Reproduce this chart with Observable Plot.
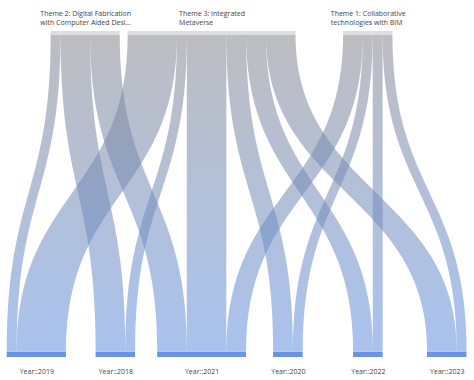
<!DOCTYPE html>
<html><head><meta charset="utf-8">
<script src="https://cdn.jsdelivr.net/npm/d3@7"></script>
<script src="https://cdn.jsdelivr.net/npm/@observablehq/plot@0.6"></script>
<style>body{margin:0;background:#fff}#chart{width:474px;height:380px}</style>
</head><body><div id="chart"></div>
<script>
// ---- data ----
const themes = ["Theme 2: Digital Fabrication with Computer Aided Design", "Theme 3: Integrated Metaverse", "Theme 1: Collaborative technologies with BIM"];
const themeLabels = ["Theme 2: Digital Fabrication\nwith Computer Aided Desi...", "Theme 3: Integrated\nMetaverse", "Theme 1: Collaborative\ntechnologies with BIM"];
const years = ["Year::2019", "Year::2018", "Year::2021", "Year::2020", "Year::2022", "Year::2023"];
const linkSource = [themes[0], themes[0], themes[0], themes[1], themes[1], themes[1], themes[1], themes[1], themes[1], themes[2], themes[2], themes[2], themes[2]];
const linkTarget = ["Year::2019", "Year::2018", "Year::2021", "Year::2019", "Year::2018", "Year::2021", "Year::2020", "Year::2022", "Year::2023", "Year::2021", "Year::2020", "Year::2022", "Year::2023"];
const linkValue = [1, 3, 3, 5, 1, 4, 2, 2, 3, 2, 1, 1, 1];

// ---- layout (spacing between nodes, in value units) ----
const topGap = [4.45, 0.8, 4.82];
const bottomGap = [0, 3.0, 2.24, 2.74, 5.1, 4.49];
const extent = 46.55;
const W = 474, H = 380, mL = 6.7, mR = 7.7, mT = 34.5, mB = 29;
const fontFamily = '"Open Sans", sans-serif';
const fontSize = 7;

function place(names, gaps, valueOf) {
  const pos = {};
  let x = 0;
  names.forEach((n, i) => { x += gaps[i]; const v = valueOf(n); pos[n] = {x0: x, x1: x + v, value: v}; x += v; });
  return pos;
}
const links = linkValue.map((v, i) => ({source: linkSource[i], target: linkTarget[i], value: v, id: i}));
const topPos = place(themes, topGap, n => d3.sum(links.filter(l => l.source === n), l => l.value));
const botPos = place(years, bottomGap, n => d3.sum(links.filter(l => l.target === n), l => l.value));

// offsets of each link at its source (sorted by target) and target (sorted by source)
for (const t of themes) {
  let o = topPos[t].x0;
  links.filter(l => l.source === t).sort((a, b) => years.indexOf(a.target) - years.indexOf(b.target))
    .forEach(l => { l.s0 = o; o += l.value; l.s1 = o; });
}
for (const y of years) {
  let o = botPos[y].x0;
  links.filter(l => l.target === y).sort((a, b) => themes.indexOf(a.source) - themes.indexOf(b.source))
    .forEach(l => { l.t0 = o; o += l.value; l.t1 = o; });
}
// sample bezier ribbons
const N = 60;
const ribbon = [];
for (const l of links) {
  for (let k = 0; k <= N; k++) {
    const t = k / N, u = 1 - t;
    const a = u * u * u + 3 * u * u * t, b = 3 * u * t * t + t * t * t;
    const y = 3 * u * u * t * 0.5 + 3 * u * t * t * 0.5 + t * t * t;
    ribbon.push({id: l.id, y, xa: l.s0 * a + l.t0 * b, xb: l.s1 * a + l.t1 * b});
  }
}

const kx = (W - mL - mR) / extent;
const ctx = document.createElement("canvas").getContext("2d");
ctx.font = `${fontSize}px ${fontFamily}`;
const topNodes = themes.map((n, i) => {
  const w = d3.max(themeLabels[i].split("\n"), s => ctx.measureText(s).width);
  const c = (topPos[n].x0 + topPos[n].x1) / 2;
  return {name: n, label: themeLabels[i], x0: topPos[n].x0, x1: topPos[n].x1, lx: c - w / 2 / kx};
});
const botNodes = years.map(n => ({name: n, x0: botPos[n].x0, x1: botPos[n].x1, c: (botPos[n].x0 + botPos[n].x1) / 2}));

const plot = Plot.plot({
  width: W, height: H,
  marginLeft: mL, marginRight: mR, marginTop: mT, marginBottom: mB,
  x: {domain: [0, extent], axis: null},
  y: {domain: [0, 1], reverse: true, axis: null},
  style: {fontFamily, fontSize: fontSize + "px", background: "#fff"},
  marks: [
    Plot.areaX(ribbon, {y: "y", x1: "xa", x2: "xb", z: "id", fill: "url(#linkGrad)", fillOpacity: 0.55, curve: "linear"}),
    Plot.ruleY(topNodes, {y: d => 0, x1: "x0", x2: "x1", stroke: "#dedede", strokeWidth: 4, dy: -2}),
    Plot.ruleY(botNodes, {y: d => 1, x1: "x0", x2: "x1", stroke: "#6a92e6", strokeWidth: 5.5, dy: 2.75}),
    Plot.text(topNodes, {x: "lx", y: d => 0, text: "label", textAnchor: "start", lineAnchor: "middle", lineHeight: 1.36, dy: -17.75, fill: "#444"}),
    Plot.text(botNodes, {x: "c", y: d => 1, text: "name", textAnchor: "middle", dy: 20.7, fill: "#444"})
  ]
});
const y0 = plot.scale("y").apply(0), y1 = plot.scale("y").apply(1);
const ns = "http://www.w3.org/2000/svg";
const defs = document.createElementNS(ns, "defs");
const g = document.createElementNS(ns, "linearGradient");
g.setAttribute("id", "linkGrad"); g.setAttribute("gradientUnits", "userSpaceOnUse");
g.setAttribute("x1", 0); g.setAttribute("x2", 0); g.setAttribute("y1", y0); g.setAttribute("y2", y1);
[["0%", "#85878e"], ["100%", "#6390e0"]].forEach(([o, c]) => {
  const s = document.createElementNS(ns, "stop"); s.setAttribute("offset", o); s.setAttribute("stop-color", c); g.appendChild(s);
});
defs.appendChild(g);
plot.insertBefore(defs, plot.firstChild);
document.getElementById("chart").appendChild(plot);
</script></body></html>
